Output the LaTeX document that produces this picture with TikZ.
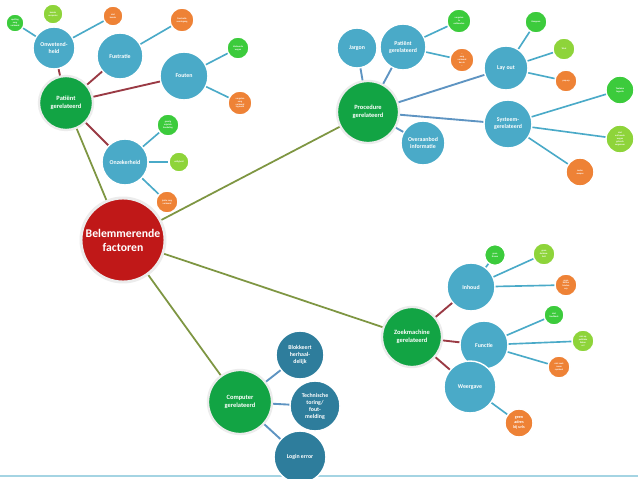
\documentclass[tikz,border=0pt]{standalone}
\usepackage{fontspec}
\setmainfont{Carlito}
\definecolor{cblue}{HTML}{4AAAC8}
\definecolor{dblue}{HTML}{2E7D9C}
\definecolor{cgreen}{HTML}{12A444}
\definecolor{lgreen}{HTML}{3CCB3C}
\definecolor{ygreen}{HTML}{8ED43A}
\definecolor{corange}{HTML}{EE8236}
\definecolor{cred}{HTML}{C01818}
\definecolor{olive}{HTML}{7E9642}
\definecolor{dred}{HTML}{9A3A44}
\definecolor{lblue}{HTML}{5E94C2}
\begin{document}
\begin{tikzpicture}[x=0.03cm,y=-0.03cm,
  bub/.style={circle,draw=white,line width=1.2pt,text=white,align=center,font=\bfseries,inner sep=0pt},
  blu/.style={bub,fill=cblue,font=\bfseries\fontsize{5}{6}\selectfont},
  dbl/.style={bub,fill=dblue,font=\bfseries\fontsize{5}{6}\selectfont},
  grn/.style={bub,fill=cgreen,line width=2pt,draw=gray!15,font=\bfseries\fontsize{5.5}{7}\selectfont},
  lf/.style={bub,font=\bfseries\fontsize{2}{2.5}\selectfont},
  lg/.style={lf,fill=lgreen}, yg/.style={lf,fill=ygreen}, og/.style={lf,fill=corange},
  ol/.style={olive,line width=1.5pt},
  rl/.style={dred,line width=1.6pt},
  bl/.style={lblue,line width=1.6pt},
  cl/.style={cblue,line width=1.4pt}]
\useasboundingbox (0,0) rectangle (638,479);
\fill[white] (0,0) rectangle (638,479);
\draw[cblue!50,line width=1pt] (0,476) -- (638,476);
% main
\node[bub,fill=cred,minimum size=2.52cm,line width=2.5pt,draw=gray!15,font=\bfseries\fontsize{10}{12}\selectfont] (m) at (123,240) {Belemmerende\\factoren};
\node[grn,minimum size=1.62cm] (p) at (66,103) {Patiënt\\gerelateerd};
\node[grn,minimum size=1.86cm] (pr) at (368,112) {Procedure\\gerelateerd};
\node[grn,minimum size=1.8cm] (z) at (412,337) {Zoekmachine\\gerelateerd};
\node[grn,minimum size=1.92cm] (c) at (240,402) {Computer\\gerelateerd};
% patient
\node[blu,minimum size=1.26cm] (p1) at (54,48) {Onwetend-\\heid};
\node[blu,minimum size=1.38cm] (p2) at (120,56) {Fustratie};
\node[blu,minimum size=1.44cm] (p3) at (184,76) {Fouten};
\node[blu,minimum size=1.38cm] (p4) at (125,162) {Onzekerheid};
\node[lg,minimum size=0.54cm] (p1a) at (15,23) {spelling\\eerg\\verkeerd};
\node[yg,minimum size=0.6cm] (p1b) at (53,14) {kennis\\computer};
\node[og,minimum size=0.6cm] (p1c) at (113,16) {niet\\kennis};
\node[og,minimum size=0.72cm] (p2a) at (182,20) {Frustratie\\vooringang};
\node[lg,minimum size=0.66cm] (p3a) at (238,48) {Verkeerde\\wegen};
\node[og,minimum size=0.72cm] (p3b) at (240,103) {vergeten\\eerg\\verkeerd\\ingevuld};
\node[lg,minimum size=0.66cm] (p4a) at (168,125) {gevolg\\onjuiste\\handeling};
\node[yg,minimum size=0.6cm] (p4b) at (179,162) {veiligheid};
\node[og,minimum size=0.66cm] (p4c) at (167,202) {juiste zorg\\verkeerd};
% procedure
\node[blu,minimum size=1.2cm] (r1) at (357,48) {Jargon};
\node[blu,minimum size=1.38cm] (r2) at (403,47) {Patiënt\\gerelateerd};
\node[blu,minimum size=1.32cm] (r3) at (506,68) {Lay out};
\node[blu,minimum size=1.44cm] (r4) at (508,124) {Systeem-\\gerelateerd};
\node[blu,minimum size=1.32cm] (r5) at (423,143) {Overaanbod\\informatie};
\node[lg,minimum size=0.72cm] (r2a) at (459,21) {vergeten\\te\\onthouden};
\node[og,minimum size=0.72cm] (r2b) at (462,60) {...\\eerg\\verkeerd\\kan in\\...};
\node[lg,minimum size=0.66cm] (r3a) at (536,22) {Knoppen};
\node[yg,minimum size=0.66cm] (r3b) at (564,49) {Tekst};
\node[og,minimum size=0.66cm] (r3c) at (566,81) {pop-up};
\node[lg,minimum size=0.84cm] (r4a) at (620,90) {Toelaten\\tegenfe};
\node[yg,minimum size=0.84cm] (r4b) at (620,139) {niet\\onthoude\\wegen\\gebruik\\wegenaan};
\node[og,minimum size=0.84cm] (r4c) at (580,172) {zoeke\\aanpas};
% zoekmachine
\node[blu,minimum size=1.44cm] (z1) at (471,287) {Inhoud};
\node[blu,minimum size=1.44cm] (z2) at (484,345) {Functie};
\node[blu,minimum size=1.56cm] (z3) at (470,387) {Weergave};
\node[lg,minimum size=0.62cm] (z1a) at (495,255) {geen\\tinaan};
\node[yg,minimum size=0.66cm] (z1b) at (544,254) {geen\\duidem-\\heit};
\node[og,minimum size=0.66cm] (z1c) at (566,285) {geen\\buffen\\binden\\erp};
\node[lg,minimum size=0.6cm] (z2a) at (554,315) {niet\\feedback};
\node[yg,minimum size=0.66cm] (z2b) at (583,341) {niet op\\publieke\\linken\\url};
\node[og,minimum size=0.66cm] (z2c) at (559,367) {niet zoek\\naam\\symbool};
\node[og,minimum size=0.84cm,font=\bfseries\fontsize{3.5}{4.2}\selectfont] (z3a) at (519,423) {geen\\adres\\bij urls};
% computer
\node[dbl,minimum size=1.44cm] (c1) at (300,355) {Blokkeert\\herhaal-\\delijk};
\node[dbl,minimum size=1.5cm] (c2) at (315,406) {Technische\\toring/\\fout-\\melding};
\node[dbl,minimum size=1.56cm] (c3) at (300,457) {Login error};
% connectors
\draw[ol] (m) -- (p); \draw[ol] (m) -- (pr); \draw[ol] (m) -- (z); \draw[ol] (m) -- (c);
\foreach \a in {p1,p2,p3,p4} \draw[rl] (p) -- (\a);
\draw[cl] (p1)--(p1a); \draw[cl] (p1)--(p1c); \draw[cl] (p2)--(p2a);
\draw[cl] (p3)--(p3a); \draw[cl] (p3)--(p3b);
\draw[cl] (p4)--(p4a); \draw[cl] (p4)--(p4b); \draw[cl] (p4)--(p4c);
\foreach \a in {r1,r2,r3,r4,r5} \draw[bl] (pr) -- (\a);
\draw[cl] (r2)--(r2a); \draw[cl] (r2)--(r2b);
\draw[cl] (r3)--(r3a); \draw[cl] (r3)--(r3b); \draw[cl] (r3)--(r3c);
\draw[cl] (r4)--(r4a); \draw[cl] (r4)--(r4b); \draw[cl] (r4)--(r4c);
\foreach \a in {z1,z2,z3} \draw[rl] (z) -- (\a);
\draw[cl] (z1)--(z1a); \draw[cl] (z1)--(z1b); \draw[cl] (z1)--(z1c);
\draw[cl] (z2)--(z2a); \draw[cl] (z2)--(z2b); \draw[cl] (z2)--(z2c);
\draw[cl] (z3)--(z3a);
\foreach \a in {c1,c2,c3} \draw[bl] (c) -- (\a);
\end{tikzpicture}
\end{document}
